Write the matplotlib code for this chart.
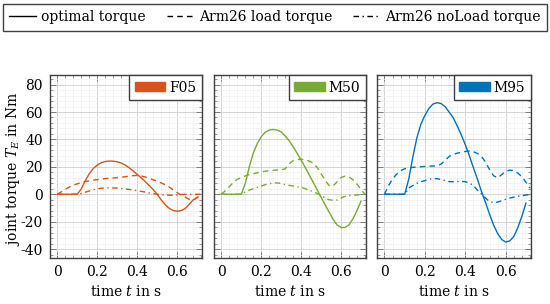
import numpy as np
import matplotlib
matplotlib.use("Agg")
import matplotlib.pyplot as plt
from matplotlib.lines import Line2D
from matplotlib.patches import Patch
from matplotlib.ticker import AutoMinorLocator

plt.rcParams['font.family'] = ['DejaVu Serif']
plt.rcParams['mathtext.fontset'] = 'dejavuserif'
plt.rcParams['font.size'] = 10

nan = np.nan
t = np.round(np.arange(0, 0.7201, 0.02), 2)

subjects = ["F05", "M50", "M95"]
colors = ["#D95319", "#77AC30", "#0072BD"]
series_labels = ["optimal torque", "Arm26 load torque", "Arm26 noLoad torque"]

F05_opt = [0, 0, 0, 0, 0, 0, 4, 10, 15, 18.8, 21.3, 23, 23.9, 24.2, 24.1, 23.7, 22.8, 21.3, 19.3,
           17, 14.5, 12, 9.3, 6.5, 3.5, 0, -4, -7.5, -10.2, -11.8, -12.4, -12, -10.5, -7.5, -4.2, -2.5, nan]
F05_load = [0, 1.8, 3.6, 5.3, 6.6, 7.6, 8.5, 9.3, 9.8, 10.3, 10.7, 11.1, 11.4, 11.7, 11.9, 12.1, 12.4,
            12.8, 13.2, 13.6, 13.7, 13.4, 12.6, 11.7, 10.6, 9.5, 8.3, 7, 5.3, 3.3, 1.2, -0.5, -2, -3.6,
            -4.2, -2.5, -0.5]
F05_noload = [0, 0, 0, 0, 0, 0, 0.5, 1.5, 2.4, 3.2, 3.9, 4.4, 4.6, 4.7, 4.6, 4.5, 4.2, 3.9, 3.5, 3.1,
              2.6, 2.1, 1.6, 1.0, 0.5, 0, -0.3, -0.6, -0.7, -0.7, -0.5, -0.2, 0, 0, 0, 0, 0]

M50_opt = [0, 0, 0, 0, 0, 0, 8, 20, 30, 37, 42, 45.3, 46.8, 47.3, 46.8, 45.5, 42.5, 39, 34.6, 29.8,
           24.9, 19.6, 14.2, 8.8, 3.3, -2.2, -7.7, -13, -18.3, -22.3, -24.3, -24.2, -22.3, -17.8,
           -11.8, -5, nan]
M50_load = [0, 2.6, 5.6, 8.6, 10.9, 12.2, 13.4, 14.3, 15, 15.7, 16.3, 16.8, 17.2, 17.5, 17.7, 17.9,
            18.5, 22.3, 24.5, 25.3, 25.5, 25.3, 24.2, 22.8, 19.5, 15, 10.2, 6.4, 5.9, 9.2, 12.2, 13.2,
            12.6, 10.5, 7.4, 3.4, 0]
M50_noload = [0, 0, 0, 0, 0, 0, 1.8, 3, 4, 5, 5.9, 7, 7.7, 8.2, 8.3, 7.8, 7, 6.5, 6, 5.4, 4.9, 4.1,
              2.9, 2, 0.6, -1, -2.7, -4, -4.4, -4.2, -2.8, -1.5, -1.1, -0.8, -0.5, -0.3, 0]

M95_opt = [0, 0, 0, 0, 0, 0, 11, 27, 41, 51, 57.6, 62.6, 65.8, 66.8, 66.2, 63.9, 60, 55.8, 49.9,
           43.3, 36.1, 28.1, 19.4, 11, 2, -6, -14.6, -22.5, -28.6, -33, -34.9, -34, -30.8, -24.3,
           -16, -6.5, nan]
M95_load = [0, 6.3, 11, 14.7, 17.2, 18.6, 19.1, 19.6, 19.9, 20.1, 20.3, 20.5, 20.6, 20.8, 22, 24.6,
            27.6, 29.1, 30, 30.6, 31.2, 31.5, 31, 29.8, 27.6, 23.4, 18, 13.5, 12, 14.3, 16.8, 17.6,
            17.2, 15.4, 12.8, 8.8, 4.5]
M95_noload = [0, 0, 0, 0, 0, 0, 4.5, 6.3, 7.9, 9.1, 10, 10.9, 11.4, 11.4, 10.7, 10, 9.2, 9.1, 9.3,
              9.5, 9.1, 8.2, 6.3, 3, 0.2, -2.7, -5.4, -6.1, -5.7, -4.7, -3.6, -2.8, -2.1, -1.5, -1,
              -0.6, -0.3]

data = {
    "F05": (F05_opt, F05_load, F05_noload),
    "M50": (M50_opt, M50_load, M50_noload),
    "M95": (M95_opt, M95_load, M95_noload),
}

xticks = [0, 0.2, 0.4, 0.6]
yticks = [-40, -20, 0, 20, 40, 60, 80]

W, H = 550, 304
fig = plt.figure(figsize=(W / 100, H / 100), dpi=100)

axes_px = [(50, 202), (214, 366), (377, 531)]
top_px, bot_px = 75, 258

styles = [dict(ls='-'), dict(ls=(0, (4, 3))), dict(ls=(0, (4, 2.5, 1, 2.5)))]
spine_col = '#404040'
fs = 10

for i, (name, col) in enumerate(zip(subjects, colors)):
    l, r = axes_px[i]
    ax = fig.add_axes([l / W, 1 - bot_px / H, (r - l) / W, (bot_px - top_px) / H])
    for vals, st in zip(data[name], styles):
        ax.plot(t, vals, color=col, lw=1.0, **st)
    ax.set_xlim(-0.037, 0.725)
    ax.set_ylim(-46.5, 87)
    ax.set_xticks(xticks)
    ax.set_xticklabels(["0", "0.2", "0.4", "0.6"])
    ax.set_yticks(yticks)
    ax.xaxis.set_minor_locator(AutoMinorLocator(5))
    ax.yaxis.set_minor_locator(AutoMinorLocator(5))
    ax.grid(which='major', color='#d4d4d4', lw=0.7)
    ax.grid(which='minor', color='#f0f0f0', lw=0.5)
    ax.set_axisbelow(True)
    ax.tick_params(which='both', direction='in', top=True, right=True, color='#707070')
    ax.tick_params(which='major', length=4, width=0.6, labelsize=fs, pad=5)
    ax.tick_params(which='minor', length=2.5, width=0.5)
    for s in ax.spines.values():
        s.set_color(spine_col)
        s.set_linewidth(1.0)
    if i == 0:
        ax.set_yticklabels([str(v) for v in yticks])
        ax.set_ylabel("joint torque $T_E$ in Nm", fontsize=fs)
        ax.yaxis.set_label_coords(-(50 - 22) / 152, 0.49)
    else:
        ax.set_yticklabels([])
    ax.set_xlabel("time $t$ in s", fontsize=fs, labelpad=4)
    leg = ax.legend(handles=[Patch(facecolor=col, edgecolor=col)], labels=[name],
                    loc='upper right', borderaxespad=0, fancybox=False, framealpha=1,
                    edgecolor=spine_col, fontsize=fs, handlelength=2.2, handleheight=0.6,
                    handletextpad=0.3, borderpad=0.4)
    leg.get_frame().set_linewidth(1.0)

handles = [Line2D([], [], color='black', lw=1.0, **st) for st in styles]
fleg = fig.legend(handles=handles, labels=series_labels, loc='upper left',
                  bbox_to_anchor=(3 / W, 1 - 4 / H, 544 / W, 0), mode='expand', ncol=3,
                  fancybox=False, framealpha=1, edgecolor=spine_col, fontsize=fs,
                  handlelength=1.9, handletextpad=0.4, borderpad=0.45, borderaxespad=0)
fleg.get_frame().set_linewidth(1.0)

fig.savefig("out.png", dpi=100)
